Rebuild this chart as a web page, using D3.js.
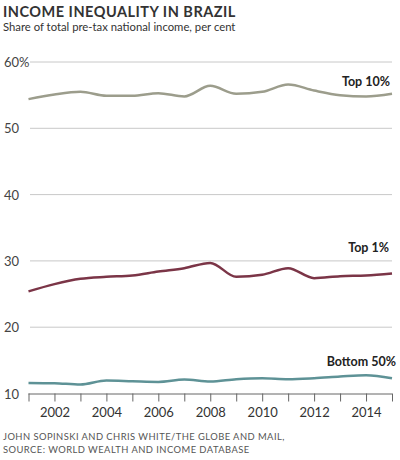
<html>
    <head>
        <script src="https://d3js.org/d3.v7.min.js"></script>
        <style>
            body { margin: 0; background: #fff; }
            text { font-family: Lato, "Open Sans", sans-serif; }
        </style>
    </head>
    <body>
        <script>
            var years = [2001, 2002, 2003, 2004, 2005, 2006, 2007, 2008, 2009, 2010, 2011, 2012, 2013, 2014, 2015];
            var top10 = [54.4, 55.1, 55.5, 54.9, 54.9, 55.3, 54.8, 56.4, 55.2, 55.5, 56.6, 55.7, 55.0, 54.8, 55.2];
            var top1 = [25.4, 26.5, 27.3, 27.6, 27.8, 28.4, 28.9, 29.7, 27.6, 27.9, 28.9, 27.4, 27.7, 27.8, 28.1];
            var bottom50 = [11.6, 11.55, 11.35, 11.95, 11.85, 11.75, 12.1, 11.8, 12.15, 12.3, 12.15, 12.3, 12.55, 12.75, 12.3];
            var yTicks = [10, 20, 30, 40, 50, 60];
            var xTicks = [2002, 2004, 2006, 2008, 2010, 2012, 2014];

            var series = [
                {name: "Top 10%", values: top10, color: "#9c9d8c", lx: 390, ly: 86},
                {name: "Top 1%", values: top1, color: "#7b3547", lx: 389, ly: 252},
                {name: "Bottom 50%", values: bottom50, color: "#5e9296", lx: 396, ly: 366}
            ];

            var width = 400, height = 460;
            var svg = d3.select("body").append("svg")
                .attr("width", width)
                .attr("height", height);

            var x = d3.scaleLinear().domain([2001, 2015]).range([28.5, 392]);
            var y = d3.scaleLinear().domain([10, 60]).range([393.5, 62]);

            // title block
            svg.append("text")
                .attr("x", 3).attr("y", 17)
                .style("font-size", "14.5px")
                .style("font-weight", "bold")
                .style("letter-spacing", "0.5px")
                .style("fill", "#333")
                .text("INCOME INEQUALITY IN BRAZIL");
            svg.append("text")
                .attr("x", 3).attr("y", 31)
                .style("font-size", "11.3px")
                .style("fill", "#333")
                .text("Share of total pre-tax national income, per cent");

            // gridlines
            svg.selectAll(".grid")
                .data(yTicks.filter(function (d) { return d > 10; }))
                .enter().append("line")
                .attr("x1", 30).attr("x2", 392)
                .attr("y1", function (d) { return y(d); })
                .attr("y2", function (d) { return y(d); })
                .style("stroke", "#c8c8c8")
                .style("stroke-width", 1);

            svg.selectAll(".ylab")
                .data(yTicks)
                .enter().append("text")
                .attr("x", 4)
                .attr("y", function (d) { return y(d) + 5; })
                .style("font-size", "13px")
                .style("fill", "#444")
                .text(function (d) { return d === 60 ? d + "%" : d; });

            // x axis
            var xAxis = d3.axisBottom(x)
                .tickValues(years)
                .tickSize(8)
                .tickFormat(function (d) { return xTicks.indexOf(d) >= 0 ? d : ""; });
            var gx = svg.append("g")
                .attr("transform", "translate(0," + y(10) + ")")
                .call(xAxis);
            gx.select(".domain").attr("d", "M" + x(2001) + ",0.5H" + x(2015)).style("stroke", "#666");
            gx.selectAll(".tick line").style("stroke", "#666");
            gx.selectAll(".tick text")
                .attr("y", 14)
                .style("font-family", "Lato, sans-serif")
                .style("font-size", "13px")
                .style("fill", "#333");

            // lines
            var line = d3.line()
                .x(function (d, i) { return x(years[i]); })
                .y(function (d) { return y(d); })
                .curve(d3.curveMonotoneX);

            svg.selectAll(".series")
                .data(series)
                .enter().append("path")
                .attr("d", function (d) { return line(d.values); })
                .style("fill", "none")
                .style("stroke", function (d) { return d.color; })
                .style("stroke-width", 2.5);

            svg.selectAll(".slab")
                .data(series)
                .enter().append("text")
                .attr("x", function (d) { return d.lx; })
                .attr("y", function (d) { return d.ly; })
                .attr("text-anchor", "end")
                .style("font-size", "12.5px")
                .style("font-weight", "bold")
                .style("fill", "#222")
                .text(function (d) { return d.name; });

            // credits
            var credits = ["JOHN SOPINSKI AND CHRIS WHITE/THE GLOBE AND MAIL,", "SOURCE: WORLD WEALTH AND INCOME DATABASE"];
            svg.selectAll(".credit")
                .data(credits)
                .enter().append("text")
                .attr("x", 3)
                .attr("y", function (d, i) { return 440 + i * 13; })
                .style("font-size", "9.4px")
                .style("letter-spacing", "0.45px")
                .style("fill", "#555")
                .text(function (d) { return d; });
        </script>
    </body>
</html>
